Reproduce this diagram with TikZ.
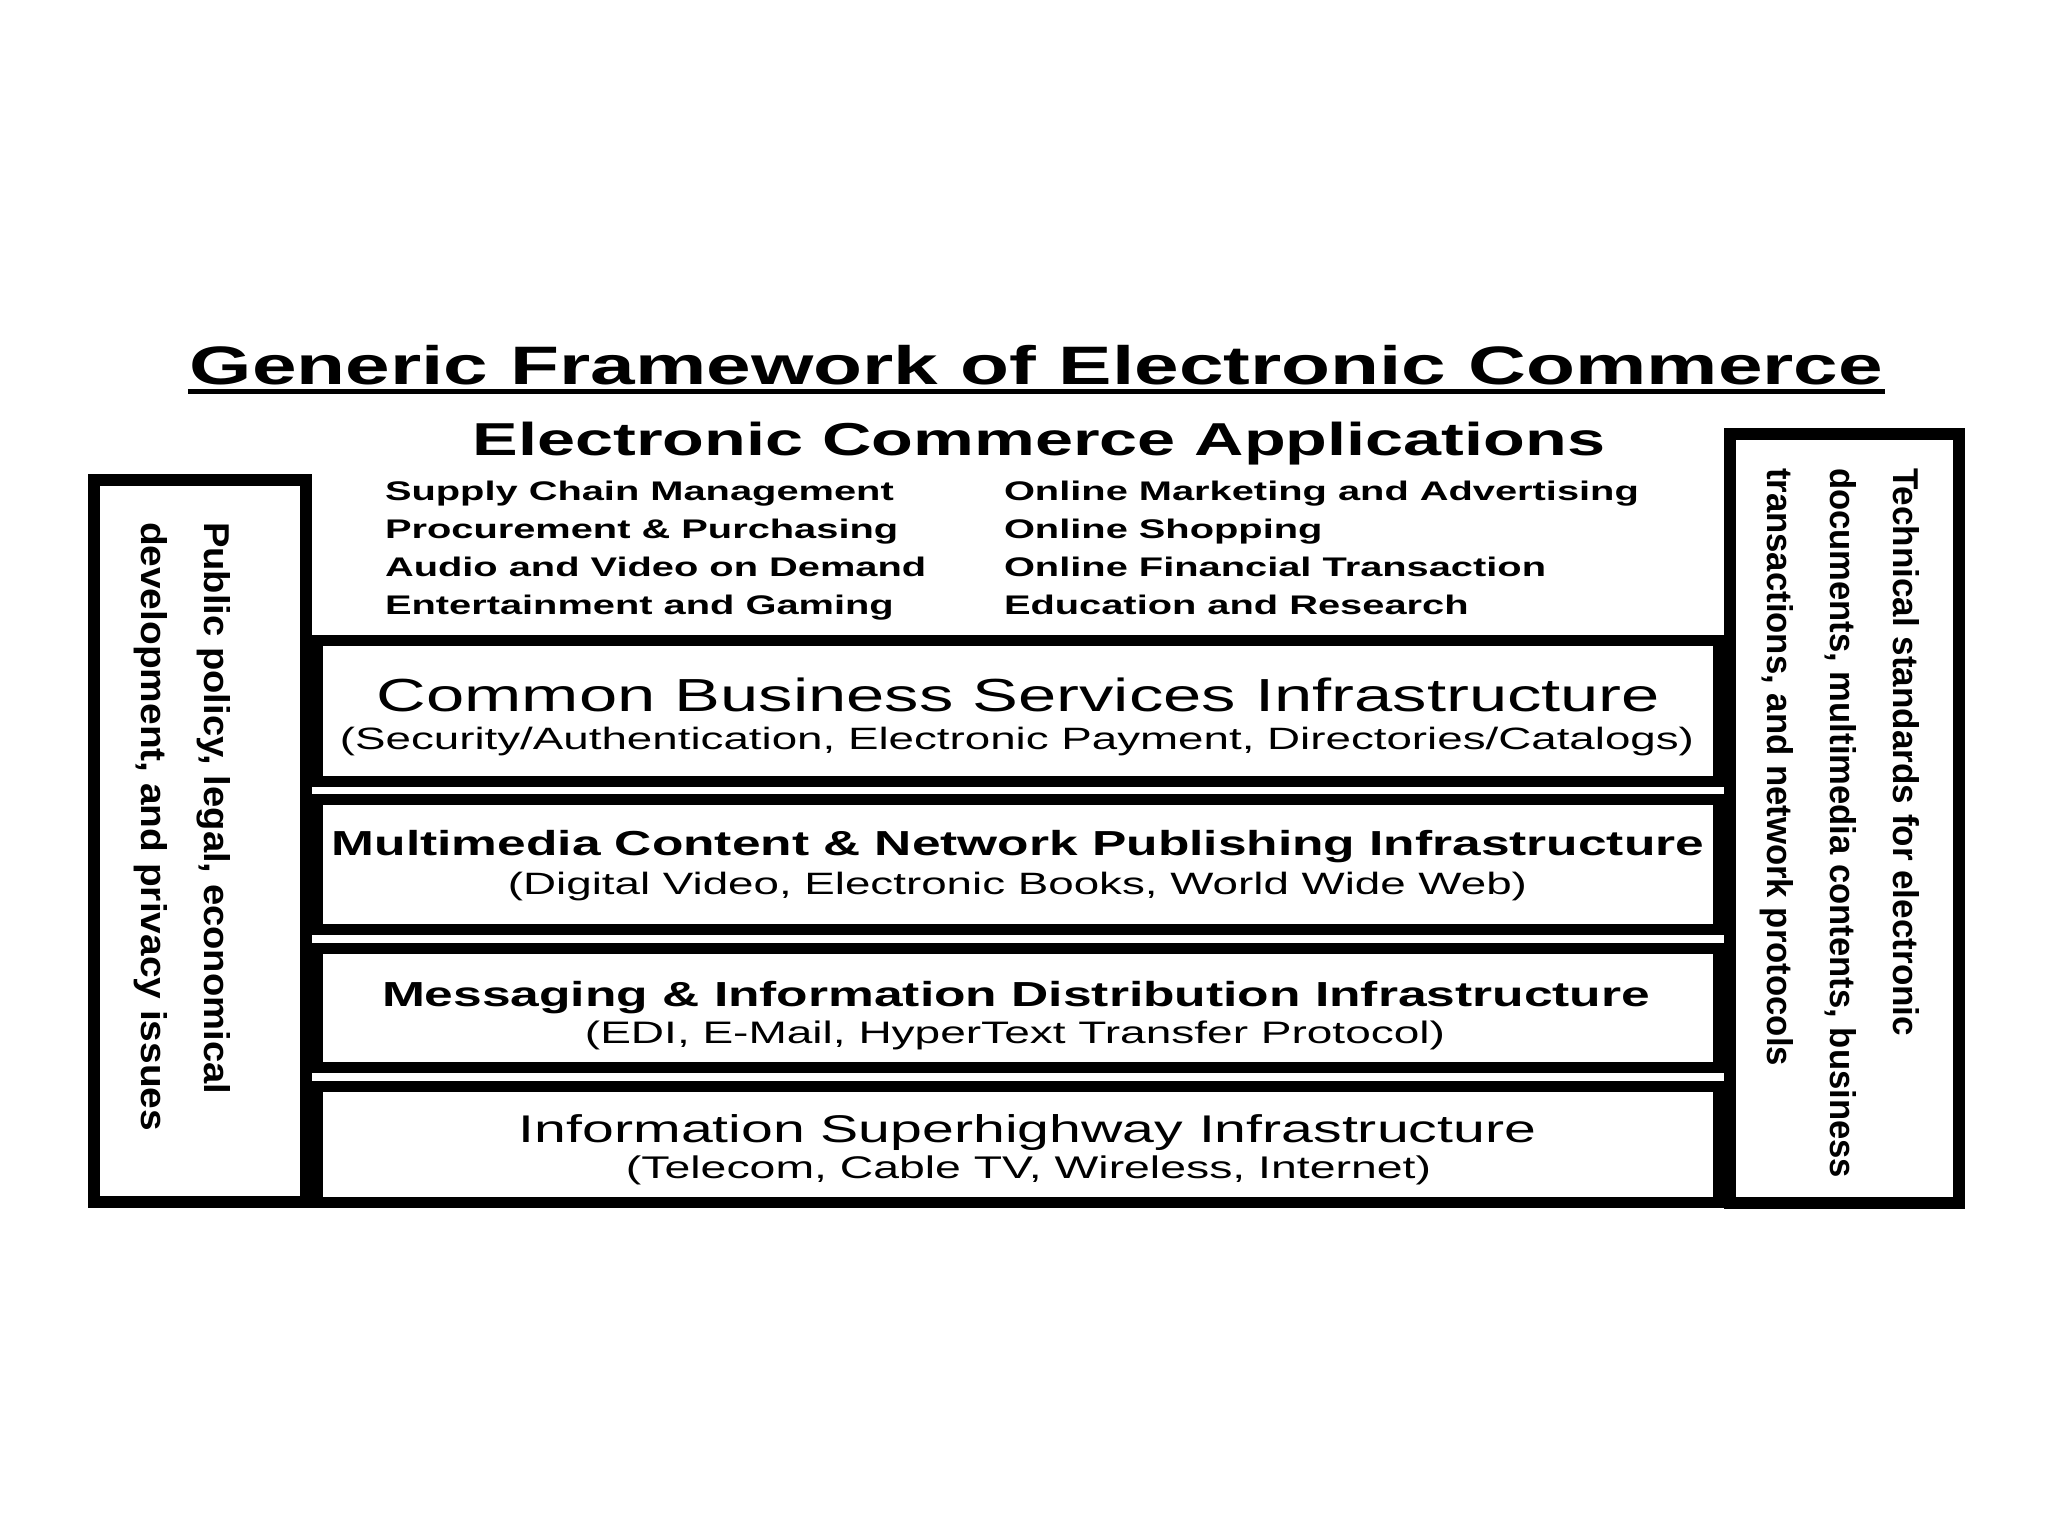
\documentclass[tikz,border=0pt]{standalone}
\usepackage{fontspec}
\setmainfont{Liberation Sans}
\usepackage{graphicx}
\newcommand{\stx}[2]{\resizebox{#1}{!}{\scalebox{1}[0.675]{#2}}}
\newcommand{\vtx}[3]{\resizebox{#1}{#2}{\bfseries #3}}
\newcommand{\apx}[1]{\scalebox{1.48}[1]{\fontsize{13.45pt}{16pt}\selectfont\bfseries #1}}
\begin{document}
\begin{tikzpicture}[x=0.5pt,y=-0.5pt,
  every node/.style={inner sep=0pt, outer sep=0pt},
  sidebox/.style={draw=black, fill=white, line width=6pt, rectangle},
  layerbox/.style={draw=black, fill=white, line width=5.5pt, rectangle, minimum width=700.5pt},
  txt/.style={anchor=base},
  vtext/.style={anchor=base west, rotate=-90},
  apptxt/.style={anchor=base west}]
\useasboundingbox[fill=white] (0,0) rectangle (2048,1536);

% layered infrastructure boxes
\node[layerbox, minimum height=70.5pt] (cbs) at (1018,711) {};
\node[layerbox, minimum height=65pt] (mm) at (1018,864.5) {};
\node[layerbox, minimum height=59.5pt] (msg) at (1018,1008) {};
\node[layerbox, minimum height=58pt] (info) at (1018,1144.5) {};

% side boxes
\node[sidebox, minimum width=106pt, minimum height=361pt] (policy) at (200,841) {};
\node[sidebox, minimum width=114.5pt, minimum height=384.5pt] (standards) at (1844.5,818.5) {};

% title
\node[txt] (title) at (1036.5,384) {\stx{846.5pt}{\bfseries Generic Framework of Electronic Commerce}};
\draw[line width=2.5pt] ([xshift=-1pt,yshift=-3.5pt]title.base west) -- ([xshift=1pt,yshift=-3.5pt]title.base east);

% applications
\node[txt] (apps) at (1039,455) {\stx{566pt}{\bfseries Electronic Commerce Applications}};
\node[apptxt] (a1) at (385,500) {\apx{Supply Chain Management}};
\node[apptxt] (a2) at (385,538) {\apx{Procurement \& Purchasing}};
\node[apptxt] (a3) at (385,576) {\apx{Audio and Video on Demand}};
\node[apptxt] (a4) at (385,614) {\apx{Entertainment and Gaming}};
\node[apptxt] (b1) at (1004,500) {\apx{Online Marketing and Advertising}};
\node[apptxt] (b2) at (1004,538) {\apx{Online Shopping}};
\node[apptxt] (b3) at (1004,576) {\apx{Online Financial Transaction}};
\node[apptxt] (b4) at (1004,614) {\apx{Education and Research}};

% layer texts
\node[txt] (cbsh) at (1018.5,711) {\stx{641.5pt}{Common Business Services Infrastructure}};
\node[txt] (cbss) at (1017,749) {\stx{677pt}{(Security/Authentication, Electronic Payment, Directories/Catalogs)}};
\node[txt] (mmh) at (1018,855) {\stx{686pt}{\bfseries Multimedia Content \& Network Publishing Infrastructure}};
\node[txt] (mms) at (1017.5,894) {\stx{509.5pt}{(Digital Video, Electronic Books, World Wide Web)}};
\node[txt] (msgh) at (1016,1006) {\stx{634pt}{\bfseries Messaging \& Information Distribution Infrastructure}};
\node[txt] (msgs) at (1015,1043) {\stx{430pt}{(EDI, E-Mail, HyperText Transfer Protocol)}};
\node[txt] (infoh) at (1027.5,1142) {\stx{508.5pt}{Information Superhighway Infrastructure}};
\node[txt] (infos) at (1028.5,1178) {\stx{402.5pt}{(Telecom, Cable TV, Wireless, Internet)}};

% vertical texts
\node[vtext] (pol1) at (204,522) {\vtx{286pt}{13pt}{Public policy, legal, economical}};
\node[vtext] (pol2) at (141,522) {\vtx{304.5pt}{13pt}{development, and privacy issues}};
\node[vtext] (std1) at (1893,468) {\vtx{284pt}{13pt}{Technical standards for electronic}};
\node[vtext] (std2) at (1830,468) {\vtx{355pt}{13pt}{documents, multimedia contents, business}};
\node[vtext] (std3) at (1767,468) {\vtx{299pt}{13pt}{transactions, and network protocols}};
\end{tikzpicture}
\end{document}
